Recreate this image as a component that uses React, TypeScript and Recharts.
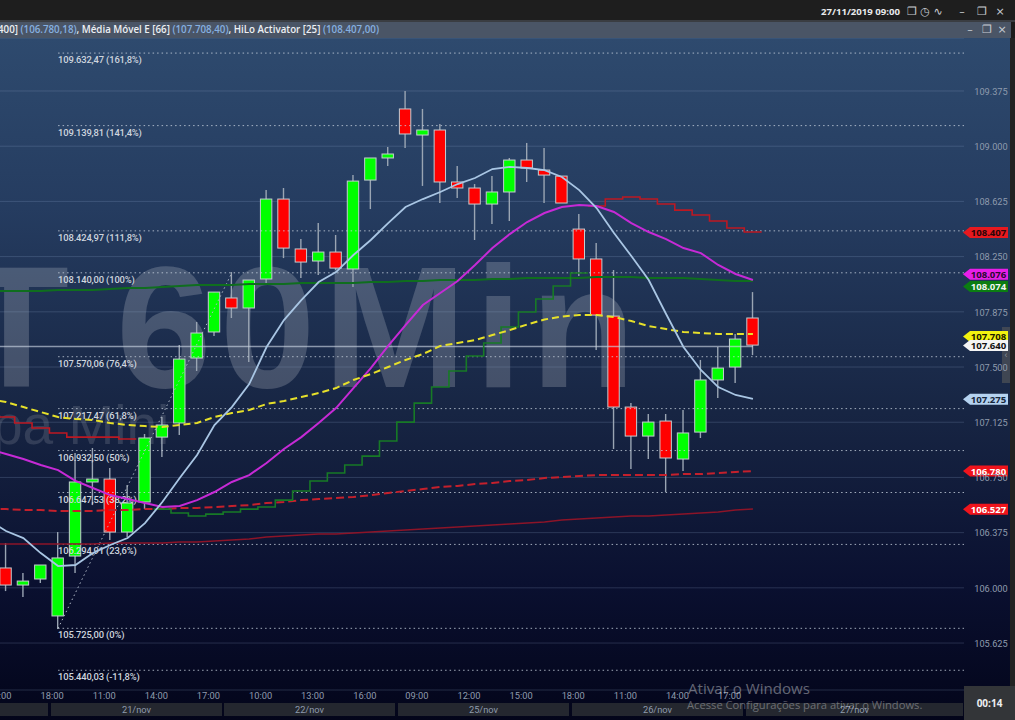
import React from "react";
import { ComposedChart, Bar, Line, XAxis, YAxis, CartesianGrid, ReferenceLine, ReferenceDot } from "recharts";

// ---- candles (price) ----
const opens = [106.135,106.019,106.060,105.809,106.216,106.719,106.739,106.379,106.583,107.024,107.120,107.561,107.738,107.969,107.901,108.098,108.641,108.302,108.220,108.281,108.166,108.770,108.920,109.253,109.076,109.110,108.757,108.716,108.607,108.689,108.906,108.838,108.797,108.437,108.234,107.846,107.228,107.031,107.133,106.875,107.058,107.412,107.500,107.833];
const closes = [106.019,106.046,106.155,106.203,106.719,106.739,106.379,106.576,107.018,107.106,107.554,107.731,108.009,107.901,108.091,108.641,108.308,108.213,108.281,108.172,108.763,108.920,108.947,109.083,109.110,108.757,108.716,108.607,108.689,108.906,108.852,108.804,108.614,108.234,107.853,107.228,107.031,107.126,106.882,107.052,107.412,107.493,107.690,107.649];
const highs = [106.304,106.101,106.155,106.379,106.916,106.950,106.814,106.698,107.045,107.160,107.649,107.806,108.009,108.145,108.091,108.702,108.716,108.369,108.478,108.397,108.804,108.920,108.994,109.375,109.253,109.151,108.865,108.743,108.797,108.920,109.022,108.988,108.797,108.539,108.342,108.159,107.255,107.181,107.181,107.208,107.548,107.636,107.724,108.009];
const lows = [105.978,105.938,106.033,105.720,106.101,106.562,106.325,106.345,106.535,106.889,107.038,107.473,107.711,107.833,107.534,108.071,108.240,108.105,108.125,108.159,108.043,108.573,108.865,108.988,108.730,108.614,108.648,108.363,108.471,108.492,108.757,108.614,108.614,108.118,107.615,106.943,106.807,106.875,106.651,106.793,107.018,107.289,107.391,107.581];

// ---- moving averages: the first value belongs to the candle just left of the view ----
const maBlue = [106.460,106.386,106.338,106.236,106.148,106.155,106.236,106.291,106.338,106.440,106.583,106.746,106.902,107.106,107.228,107.384,107.636,107.819,107.955,108.077,108.145,108.261,108.363,108.478,108.587,108.641,108.689,108.743,108.784,108.845,108.859,108.852,108.838,108.791,108.702,108.580,108.410,108.254,108.091,107.860,107.636,107.480,107.364,107.310,107.283];
const maMagenta = [106.943,106.909,106.875,106.834,106.800,106.726,106.678,106.630,106.603,106.576,106.549,106.556,106.596,106.651,106.719,106.766,106.848,106.943,107.024,107.120,107.221,107.357,107.493,107.643,107.785,107.921,108.003,108.084,108.193,108.308,108.403,108.485,108.546,108.587,108.600,108.594,108.553,108.478,108.417,108.369,108.308,108.274,108.193,108.132,108.091];
const maYellow = [107.283,107.262,107.228,107.194,107.160,107.147,107.140,107.120,107.106,107.099,107.092,107.106,107.120,107.160,107.187,107.208,107.249,107.269,107.296,107.323,107.357,107.412,107.452,107.500,107.548,107.588,107.643,107.663,107.683,107.717,107.751,107.789,107.823,107.843,107.853,107.853,107.840,107.812,107.778,107.758,107.738,107.731,107.724,107.724,107.724];
const maRedDash = [106.535,106.535,106.529,106.529,106.522,106.522,106.522,106.529,106.529,106.535,106.535,106.542,106.542,106.549,106.556,106.562,106.576,106.583,106.596,106.603,106.610,106.617,106.630,106.644,106.658,106.671,106.685,106.692,106.705,106.712,106.726,106.732,106.746,106.753,106.760,106.766,106.766,106.766,106.766,106.766,106.773,106.773,106.780,106.787,106.793];
const maRedThin = [106.298,106.298,106.298,106.298,106.298,106.298,106.298,106.304,106.304,106.304,106.304,106.311,106.311,106.318,106.325,106.332,106.345,106.352,106.359,106.366,106.366,106.372,106.379,106.386,106.393,106.399,106.406,106.413,106.420,106.427,106.433,106.440,106.447,106.461,106.467,106.474,106.481,106.488,106.488,106.495,106.501,106.508,106.515,106.529,106.535];
const maGreen = [108.016,108.016,108.016,108.016,108.023,108.023,108.023,108.030,108.037,108.037,108.043,108.050,108.057,108.057,108.057,108.064,108.064,108.064,108.071,108.071,108.071,108.071,108.077,108.077,108.084,108.084,108.091,108.091,108.091,108.098,108.098,108.105,108.105,108.105,108.105,108.111,108.111,108.111,108.105,108.105,108.105,108.098,108.091,108.084,108.084];

// ---- HiLo activator segments (first candle index + levels) ----
const hiloRedAStart = 0;
const hiloRedA = [107.160,107.120,107.086,107.052,107.024,107.024,107.024,107.011];
const hiloGreenStart = 9;
const hiloGreen = [106.535,106.508,106.488,106.501,106.515,106.535,106.549,106.596,106.658,106.726,106.780,106.834,106.895,106.997,107.126,107.255,107.364,107.473,107.575,107.663,107.772,107.874,107.962,108.050,108.139];
const hiloRedBStart = 34;
const hiloRedB = [108.594,108.641,108.655,108.641,108.607,108.566,108.533,108.492,108.444,108.417];

// ---- axes ----
const xDomain = [-0.345, 55.15];
const yDomain = [105.306, 109.735];
const priceTicks = [105.625,106,106.375,106.75,107.125,107.5,107.875,108.25,108.625,109,109.375];
const timeTickIndex = [0,3,6,9,12,15,18,21,24,27,30,33,36,39,42];
const timeTickLabels = ["15:00","18:00","11:00","14:00","17:00","10:00","13:00","16:00","09:00","12:00","15:00","18:00","11:00","14:00","17:00"];
const dateLabels = ["", "21/nov", "22/nov", "25/nov", "26/nov", "27/nov"];
const dateBoxes = [[0,48],[51,222],[224,395],[398,569],[572,743],[746,963]];

// ---- fibonacci ----
const fibValues = [109.63247,109.13981,108.42497,108.14,107.57006,107.21747,106.9325,106.64753,106.29491,105.725,105.44003];
const fibLabels = ["109.632,47 (161,8%)","109.139,81 (141,4%)","108.424,97 (111,8%)","108.140,00 (100%)","107.570,06 (76,4%)","107.217,47 (61,8%)","106.932,50 (50%)","106.647,53 (38,2%)","106.294,91 (23,6%)","105.725,00 (0%)","105.440,03 (-11,8%)"];
const fibStartIndex = 3;
const fibEndIndex = 13;
const lastPrice = 107.64;

// ---- right-hand price tags ----
const tagValues = [108.407,108.076,108.074,107.708,107.64,107.275,106.78,106.527];
const tagFills = ["#e8191f","#e81ee8","#0b7d12","#f2f20f","#f4f4f4","#b4d2f0","#f0141c","#f0141c"];
const tagInks = ["#2a0508","#2a0a30","#f2f6f2","#1a1a00","#111111","#14263c","#ffffff","#ffffff"];
const tagShifts = [-1,-8,4,0,-1,-1,-2,-1];

const maRow = (k: number, i: number) => ({
  i,
  maBlue: maBlue[k], maMagenta: maMagenta[k], maYellow: maYellow[k],
  maRedDash: maRedDash[k], maRedThin: maRedThin[k], maGreen: maGreen[k],
});
const rows: any[] = [
  maRow(0, -1),
  ...opens.map((o, i) => ({
    ...maRow(i + 1, i),
    open: o, close: closes[i], high: highs[i], low: lows[i],
    range: [lows[i], highs[i]],
  })),
];

const stepRows = (start: number, levels: number[]) => [
  ...levels.map((v, k) => ({ i: start + k - 0.5, v })),
  { i: start + levels.length - 0.5, v: levels[levels.length - 1] },
];

const tickFont = "Roboto, sans-serif";

const Candle = (props: any) => {
  const { x, y, width, height, payload } = props;
  if (!payload || payload.open === undefined) return null;
  const { open, close, high, low } = payload;
  const ppu = height / (high - low);
  const top = y + (high - Math.max(open, close)) * ppu;
  const bot = y + (high - Math.min(open, close)) * ppu;
  const up = close >= open;
  const cx = x + width / 2;
  const w = 11.4;
  return (
    <g>
      <line x1={cx} x2={cx} y1={y} y2={y + height} stroke="#9aa5b3" strokeWidth={1.4} />
      <rect x={cx - w / 2} y={top} width={w} height={Math.max(bot - top, 1)} fill={up ? "#00ff00" : "#ff0000"} stroke="#c3ccd0" strokeWidth={1} />
    </g>
  );
};

const XTick = (props: any) => {
  const { x, y, index } = props;
  return (
    <text x={x - 6} y={y + 1} textAnchor="middle" fill="#8f9bad" fontSize={9.3} fontFamily={tickFont}>
      {timeTickLabels[index]}
    </text>
  );
};

const YTick = (props: any) => {
  const { y, payload } = props;
  return (
    <text x={991} y={y + 3.8} textAnchor="middle" fill="#8f9bad" fontSize={9.2} fontFamily={tickFont}>
      {payload.value.toFixed(3)}
    </text>
  );
};

const tagShape = (k: number) => (props: any) => {
  const x = 964;
  const y = props.cy + tagShifts[k];
  const h = 5.5;
  return (
    <g>
      <polygon points={`${x - 1},${y} ${x + 6},${y - h} ${x + 44},${y - h} ${x + 44},${y + h} ${x + 6},${y + h}`} fill={tagFills[k]} />
      <text x={x + 24.5} y={y + 3.6} textAnchor="middle" fill={tagInks[k]} fontSize={9.6} fontWeight={700} fontFamily="'Open Sans', sans-serif">
        {tagValues[k].toFixed(3)}
      </text>
    </g>
  );
};

const fibLabel = (text: string) => (props: any) => {
  const vb = props.viewBox;
  return (
    <text x={vb.x} y={vb.y + 10} fill="#cfd6df" fontSize={9.4} letterSpacing={-0.15} fontWeight={500} fontFamily={tickFont}>
      {text}
    </text>
  );
};

const abs = (left: number, top: number, width: number, height: number, extra: any = {}) => ({
  position: "absolute" as const, left, top, width, height, ...extra,
});

const iconChars = ["–", "❐", "×"];
const IconRow = ({ xs, top }: { xs: number[]; top: number }) => (
  <>
    {xs.map((x, k) => (
      <div key={k} style={abs(x - 8, top, 16, 14, { color: "#c8ccd2", font: "11px 'DejaVu Sans', sans-serif", lineHeight: "14px", textAlign: "center" })}>
        {iconChars[k]}
      </div>
    ))}
  </>
);

export default function App() {
  return (
    <div style={{ position: "absolute", left: 0, top: 0, width: 1015, height: 720, overflow: "hidden", background: "#1c1c1c" }}>
      {/* plot background */}
      <div style={abs(0, 38, 1010, 682, { background: "linear-gradient(to bottom,#2e4a6e 0%,#253c60 25%,#172543 55%,#0a1030 80%,#03051a 100%)" })} />

      {/* watermark */}
      <div style={abs(-36, 232, 120, 190, { color: "rgba(255,255,255,0.19)", font: "700 172px 'Liberation Sans', sans-serif", lineHeight: "190px", whiteSpace: "pre" })}>
        T
      </div>
      <div style={abs(116, 232, 560, 190, { color: "rgba(255,255,255,0.19)", font: "700 172px 'Liberation Sans', sans-serif", lineHeight: "190px", whiteSpace: "pre", letterSpacing: 8 })}>
        60Min
      </div>
      <div style={abs(-8, 390, 300, 70, { color: "rgba(255,255,255,0.13)", font: "400 55px 'Liberation Sans', sans-serif", lineHeight: "70px", whiteSpace: "pre" })}>
        {"pa Mini"}
      </div>

      {/* scroll handle */}
      <div style={abs(1002, 327, 8, 56, { background: "rgba(70,75,85,0.85)", color: "#8a8f98", font: "9px sans-serif", lineHeight: "56px", textAlign: "center" })}>‹</div>

      <div style={abs(0, 0, 1015, 720)}>
        <ComposedChart width={1015} height={720} data={rows} margin={{ top: 38, right: 0, bottom: 0, left: 0 }}>
          <CartesianGrid horizontal vertical={false} stroke="rgba(150,175,210,0.22)" strokeWidth={1} />
          <XAxis dataKey="i" type="number" domain={xDomain} allowDataOverflow ticks={timeTickIndex} interval={0} height={30} axisLine={false} tickLine={false} tick={<XTick />} />
          <YAxis type="number" orientation="right" domain={yDomain} allowDataOverflow ticks={priceTicks} interval={0} width={51} axisLine={false} tickLine={false} tick={<YTick />} />

          {fibValues.map((v, k) => (
            <ReferenceLine
              key={v}
              segment={[{ x: fibStartIndex, y: v }, { x: xDomain[1], y: v }]}
              stroke="#c8d2de"
              strokeOpacity={0.8}
              strokeWidth={1}
              strokeDasharray="1.5 3"
              label={fibLabel(fibLabels[k])}
            />
          ))}
          <ReferenceLine
            segment={[{ x: fibStartIndex, y: fibValues[9] }, { x: fibEndIndex, y: fibValues[3] }]}
            stroke="#aeb8c6"
            strokeWidth={1}
            strokeDasharray="1.5 3"
          />
          <ReferenceLine
            segment={[{ x: xDomain[0], y: lastPrice }, { x: 43, y: lastPrice }]}
            stroke="rgba(200,210,225,0.65)"
            strokeWidth={1.5}
          />

          <Bar dataKey="range" barSize={12} shape={<Candle />} isAnimationActive={false} />

          <Line dataKey="maGreen" type="linear" dot={false} stroke="#0f6e1e" strokeWidth={2} isAnimationActive={false} />
          <Line dataKey="maRedThin" type="linear" dot={false} stroke="#8c1428" strokeWidth={1.5} isAnimationActive={false} />
          <Line dataKey="maRedDash" type="linear" dot={false} stroke="#c4202c" strokeWidth={2} strokeDasharray="8 4" isAnimationActive={false} />
          <Line data={stepRows(hiloRedAStart, hiloRedA)} dataKey="v" type="stepAfter" dot={false} stroke="#bd1822" strokeWidth={1.6} isAnimationActive={false} />
          <Line data={stepRows(hiloGreenStart, hiloGreen)} dataKey="v" type="stepAfter" dot={false} stroke="#177a26" strokeWidth={1.6} isAnimationActive={false} />
          <Line data={stepRows(hiloRedBStart, hiloRedB)} dataKey="v" type="stepAfter" dot={false} stroke="#bd1822" strokeWidth={1.6} isAnimationActive={false} />
          <Line dataKey="maMagenta" type="linear" dot={false} stroke="#c62ad6" strokeWidth={2} isAnimationActive={false} />
          <Line dataKey="maYellow" type="linear" dot={false} stroke="#e6e02a" strokeWidth={2} strokeDasharray="7 4" isAnimationActive={false} />
          <Line dataKey="maBlue" type="linear" dot={false} stroke="#a9c6e4" strokeWidth={1.8} isAnimationActive={false} />

          {tagValues.map((v, k) => (
            <ReferenceDot key={v} x={xDomain[1]} y={v} r={1} ifOverflow="visible" isFront shape={tagShape(k)} />
          ))}
        </ComposedChart>
      </div>

      {/* date strip */}
      {dateBoxes.map(([a, b], k) => (
        <div key={k} style={abs(a, 703, b - a, 13, { background: "#24272f", color: "#8f9bad", font: `9.3px ${tickFont}`, lineHeight: "13px", textAlign: "center" })}>
          {dateLabels[k]}
        </div>
      ))}

      {/* clock box */}
      <div style={abs(964, 686, 51, 34, { background: "#333538", color: "#eceef0", font: "700 10px 'Open Sans', sans-serif", lineHeight: "34px", textAlign: "center" })}>
        00:14
      </div>

      <div style={abs(1010, 38, 5, 648, { background: "#232323" })} />

      {/* window top bar */}
      <div style={abs(0, 0, 1015, 20, { background: "#1e1e1e" })} />
      <div style={abs(0, 20, 1015, 2, { background: "#3a3d42" })} />
      <div style={abs(821, 5, 90, 14, { color: "#e8eaec", font: "700 9.6px 'Open Sans', sans-serif", lineHeight: "14px", whiteSpace: "pre" })}>
        27/11/2019 09:00
      </div>
      <div style={abs(907, 5, 50, 14, { color: "#c8ccd2", font: "11px 'DejaVu Sans', sans-serif", lineHeight: "14px", whiteSpace: "pre" })}>
        {"❐ ◷ ∿"}
      </div>
      <IconRow xs={[962, 982, 1000]} top={5} />

      {/* title bar */}
      <div style={abs(0, 22, 1011, 16, { background: "#4a5566" })} />
      <div style={abs(-2, 22, 500, 16, { color: "#eceff3", font: "600 9.75px 'Open Sans', sans-serif", lineHeight: "16px", whiteSpace: "pre" })}>
        {"400] "}
        <span style={{ color: "#86b0e0" }}>(106.780,18)</span>
        {", Média Móvel E [66] "}
        <span style={{ color: "#86b0e0" }}>(107.708,40)</span>
        {", HiLo Activator [25] "}
        <span style={{ color: "#86b0e0" }}>(108.407,00)</span>
      </div>
      <IconRow xs={[970, 987, 1002]} top={23} />

      {/* activation notice */}
      <div style={abs(688, 677, 300, 22, { color: "rgba(255,255,255,0.38)", font: "400 15.1px 'Open Sans', sans-serif", lineHeight: "22px", whiteSpace: "pre" })}>
        Ativar o Windows
      </div>
      <div style={abs(687, 697, 300, 16, { color: "rgba(255,255,255,0.34)", font: "400 11.2px 'Open Sans', sans-serif", lineHeight: "16px", whiteSpace: "pre" })}>
        Acesse Configurações para ativar o Windows.
      </div>
    </div>
  );
}
